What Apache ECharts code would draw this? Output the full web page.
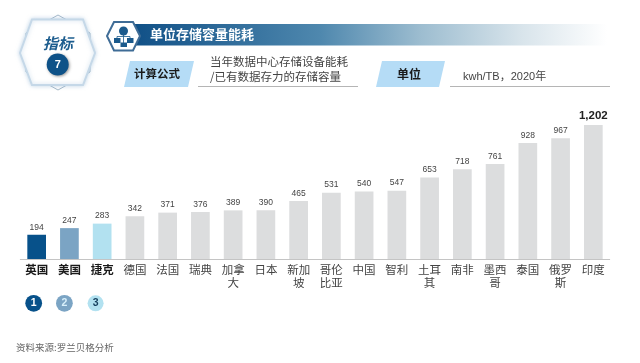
<!DOCTYPE html>
<html><head><meta charset="utf-8">
<style>html,body{margin:0;padding:0;background:#fff}#c{width:640px;height:363px}</style>
<script src="https://cdn.jsdelivr.net/npm/echarts@6/dist/echarts.min.js"></script>
</head><body><div id="c"></div>
<script>
const categories = ['英国','美国','捷克','德国','法国','瑞典','加拿\n大','日本','新加\n坡','哥伦\n比亚','中国','智利','土耳\n其','南非','墨西\n哥','泰国','俄罗\n斯','印度'];
const values = [194,247,283,342,371,376,389,390,465,531,540,547,653,718,761,928,967,1202];
const topColors = ['#07518a','#7ba4c4','#b2e1f0'];
const grey = '#dcddde';
const FONT = '"Noto Sans CJK SC","Liberation Sans",sans-serif';
const LAT = '"Liberation Sans",Arial,sans-serif';
const poly = (pts, style, z) => ({type:'polygon', shape:{points:pts}, style, z:z||1});
const txt = (x,y,t,fs,fill,w,extra) => ({type:'text', x, y, z:5, style:Object.assign({text:t, fontSize:fs, fill, fontWeight:w||'normal', fontFamily:FONT, textVerticalAlign:'middle', textAlign:'left'}, extra||{})});
const circle = (cx,cy,r,fill,extra,z) => ({type:'circle', shape:{cx,cy,r}, style:Object.assign({fill}, extra||{}), z:z||2});
const para = (x,y,w,h,s) => poly([[x+s,y],[x+w,y],[x+w-s,y+h],[x,y+h]], {fill:'#b5dcf6'});
const icon = '#1b5a8c';
const box = (x,y,w,h) => ({type:'rect', shape:{x,y,width:w,height:h}, style:{fill:icon}, z:4});
const wire = pts => ({type:'polyline', shape:{points:pts}, style:{stroke:icon,lineWidth:0.8,fill:'none'}, z:3});

const g = [
  // badge
  poly([[58,15],[90,33],[90,72],[58,90],[26,72],[26,33]], {fill:'none',stroke:'#a4b8c8',lineWidth:1}),
  poly([[32,19.5],[83,19.5],[95,53],[83,85],[32,85],[20,53]], {fill:'#fff',stroke:'#c5d8e8',lineWidth:2,shadowBlur:4,shadowColor:'rgba(150,185,215,.5)'},2),
  txt(58,43,'指标',15,'#1d5d8e','bold',{textAlign:'center',fontStyle:'italic'}),
  circle(57.7,64.5,11,'#0e5288',{shadowBlur:3,shadowOffsetX:1,shadowOffsetY:1,shadowColor:'rgba(0,0,0,.4)'},3),
  txt(57.7,64.5,'7',11,'#fff','bold',{textAlign:'center',fontFamily:LAT}),
  // banner
  {type:'rect', shape:{x:130,y:24,width:477,height:21.5}, z:1,
   style:{fill:{type:'linear',x:0,y:0,x2:1,y2:0,colorStops:[{offset:0,color:'#0f4f86'},{offset:.4,color:'#4f88ae'},{offset:.61,color:'#9dbdd0'},{offset:.82,color:'#d8e4eb'},{offset:1,color:'#ffffff'}]}}},
  poly([[114,22],[133,22],[140,36],[133,50.5],[114,50.5],[107,36]], {fill:'#fff',stroke:'#3f6c96',lineWidth:2},2),
  // icon
  circle(123.5,31,4.5,icon,null,4),
  box(114,38,6.5,5), box(120.5,42.5,6.5,4.5), box(127,38,6.5,5),
  wire([[123.5,35],[123.5,43]]),
  wire([[117,38],[117,36.5],[130,36.5],[130,38]]),
  txt(150,34.5,'单位存储容量能耗',13,'#fff','bold'),
  // formula row
  para(124,61,70,26,6),
  txt(157,74,'计算公式',11.5,'#1a1a1a','bold',{textAlign:'center'}),
  txt(210,69.5,'当年数据中心存储设备能耗\n/已有数据存力的存储容量',11.5,'#444',null,{lineHeight:15}),
  {type:'line', shape:{x1:198,y1:86.5,x2:358,y2:86.5}, style:{stroke:'#b5b5b5',lineWidth:1}},
  para(376,61,69,26,6),
  txt(409,74,'单位',12,'#1a1a1a','bold',{textAlign:'center'}),
  txt(463,77,'kwh/TB，2020年',11,'#444',null,{fontFamily:'"Liberation Sans","Noto Sans CJK SC",sans-serif'}),
  {type:'line', shape:{x1:450,y1:86.5,x2:610,y2:86.5}, style:{stroke:'#b5b5b5',lineWidth:1}},
  // numbered markers
  circle(33.7,303.3,8.4,'#07518a'), txt(33.7,303.5,'1',10.5,'#fff','bold',{textAlign:'center',fontFamily:LAT}),
  circle(64.4,303.3,8.4,'#7ba4c4'), txt(64.4,303.5,'2',10.5,'#d8f0fb','bold',{textAlign:'center',fontFamily:LAT}),
  circle(95.6,303.3,8,'#b2e1f0'), txt(95.6,303.5,'3',10.5,'#143e5c','bold',{textAlign:'center',fontFamily:LAT}),
  // source
  txt(16,347,'资料来源:罗兰贝格分析',9.5,'#666')
];

const chart = echarts.init(document.getElementById('c'), null, {renderer:'canvas'});
chart.setOption({
  animation:false,
  backgroundColor:'#fff',
  grid:{left:20.3,right:30.3,top:125,bottom:104,containLabel:false},
  xAxis:{type:'category',data:categories,
    axisTick:{show:false},
    axisLine:{lineStyle:{color:'#c4c4c4',width:1}},
    axisLabel:{interval:0,margin:4,fontFamily:FONT,fontSize:11.5,lineHeight:13,color:'#444',
      formatter:(v,i)=> i<3 ? '{b|'+v+'}' : v,
      rich:{b:{fontWeight:'bold',color:'#1a1a1a',fontSize:11.5,fontFamily:FONT,lineHeight:13}}}},
  yAxis:{type:'value',min:0,max:1072,show:false,splitLine:{show:false}},
  series:[{type:'bar',barWidth:18.7,clip:true,
    data:values.map((v,i)=>({value:v,
      itemStyle:{color:i<3?topColors[i]:grey},
      label:i===values.length-1?{fontWeight:'bold',fontSize:11.5,color:'#222'}:undefined})),
    label:{show:true,position:'top',distance:3,fontFamily:LAT,fontSize:8.5,color:'#444',
      formatter:p=>p.value.toLocaleString('en-US')}
  }],
  graphic:{elements:g}
});
</script></body></html>
